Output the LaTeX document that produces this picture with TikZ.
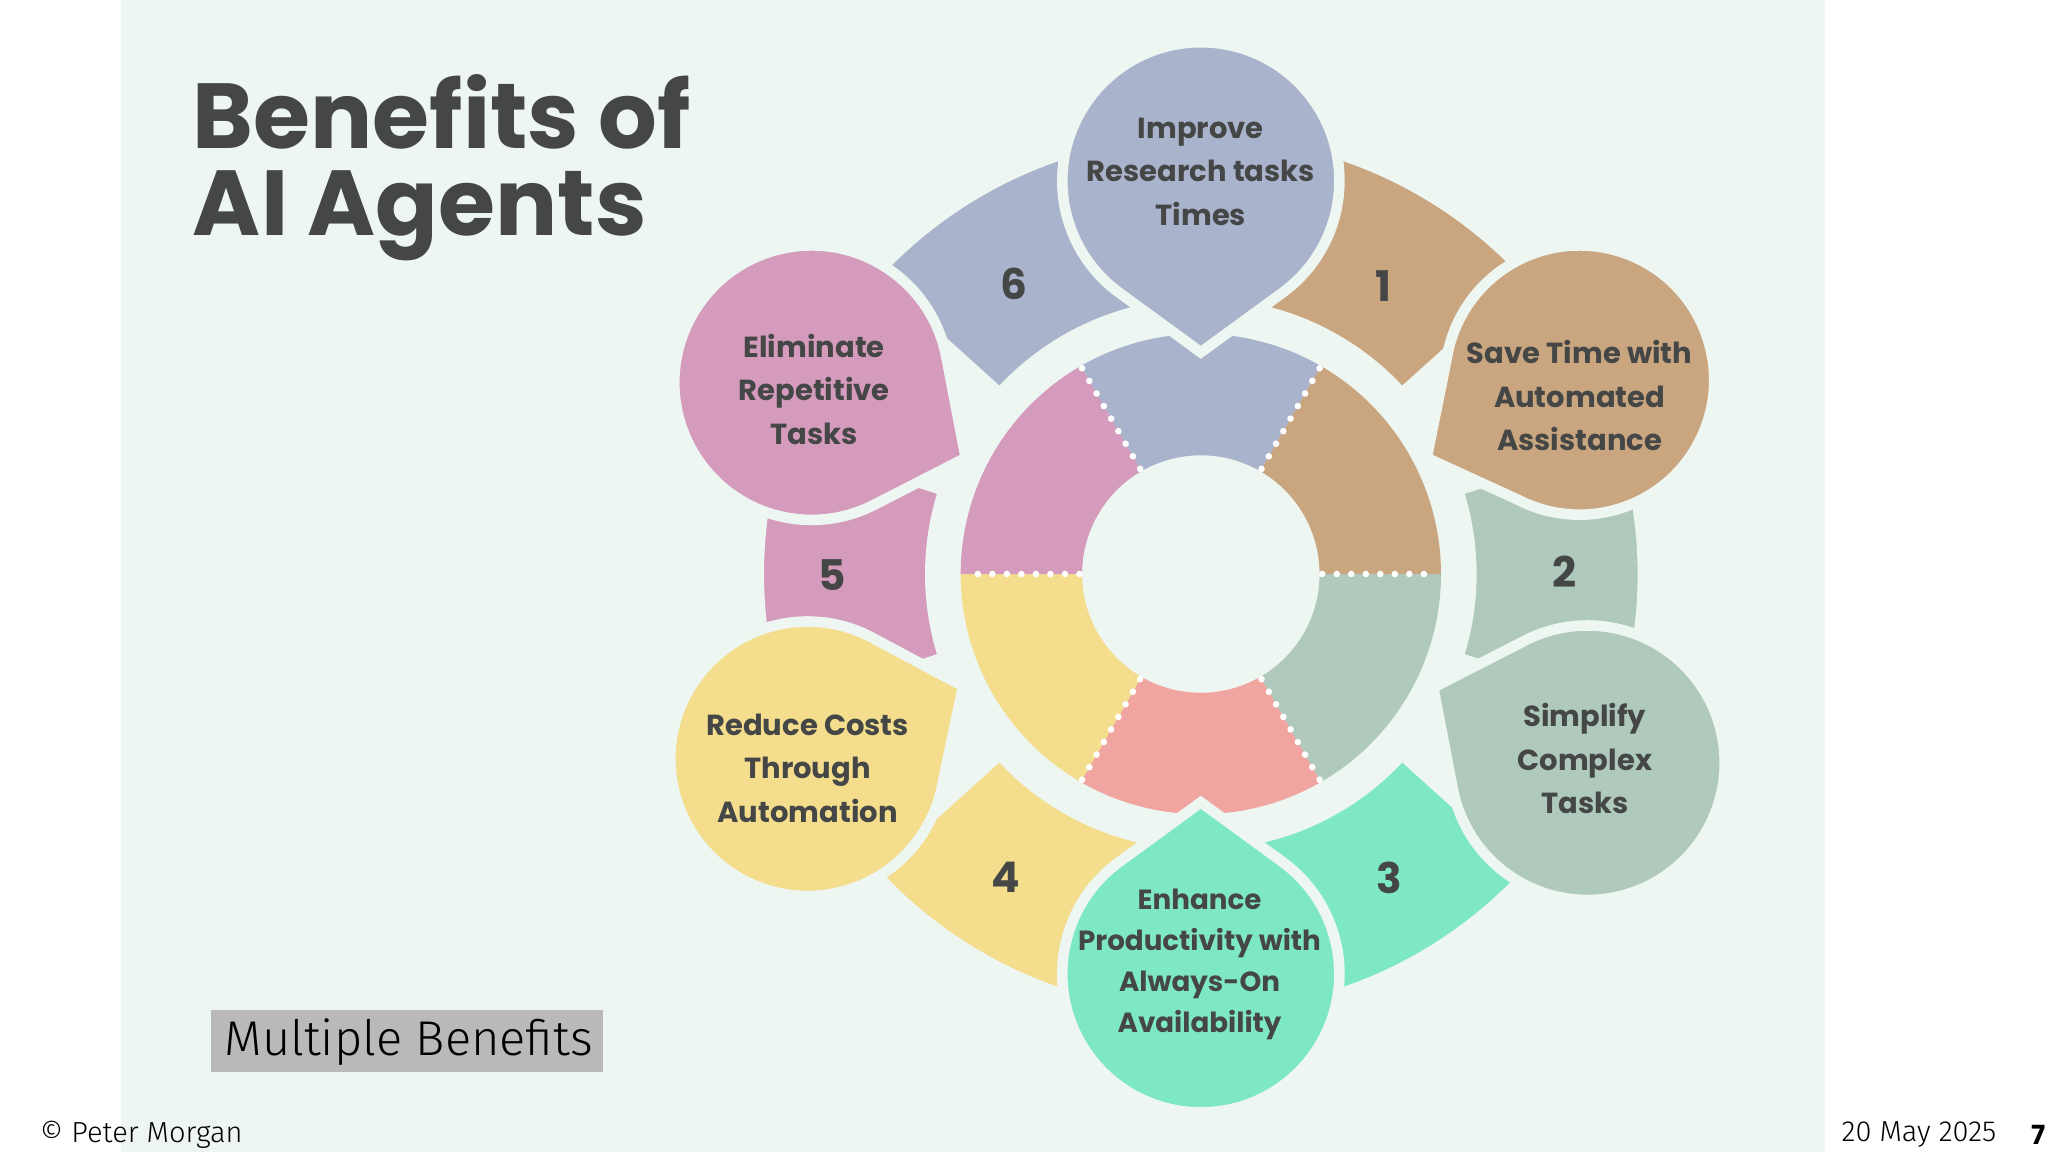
\documentclass[tikz,border=0pt]{standalone}
\usepackage{fontspec}
\setmainfont{Poppins}
\newfontfamily\footfont{Fira Sans Light}
\definecolor{bgc}{HTML}{EEF6F2}
\definecolor{cblue}{HTML}{A9B3CB}
\definecolor{ctan}{HTML}{C9A680}
\definecolor{csage}{HTML}{AFC9BC}
\definecolor{cmint}{HTML}{7EE8C4}
\definecolor{cyel}{HTML}{F4DE8E}
\definecolor{cpink}{HTML}{D59BBD}
\definecolor{csal}{HTML}{F0A5A0}
\definecolor{ctxt}{HTML}{454746}
\tikzset{x=1pt,y=1pt,
 ptext/.style={font=\fontsize{22}{33}\selectfont\bfseries,text=ctxt,align=center},
 numtxt/.style={font=\fontsize{32}{32}\selectfont\bfseries,text=ctxt},
 gap/.style={draw=bgc,line width=8pt}}
\newcommand{\petal}[4]{% center, direction, radius, color
 \begin{scope}[shift={#1},rotate=#2]
 \fill[#4,gap] (130,0) -- (36:#3) arc[start angle=36,end angle=324,radius=#3] -- cycle;
 \end{scope}}
\newcommand{\tab}[2]{% angle, color
 \fill[#2,gap] (#1-18:205) arc[start angle=#1-18,end angle=#1+18,radius=205] -- (#1+18:335) arc[start angle=#1+18,end angle=#1-18,radius=335] -- cycle;}
\begin{document}
\begin{tikzpicture}
\useasboundingbox (0,0) rectangle (1552,-873);
\fill[white] (0,0) rectangle (1552,-873);
\fill[bgc] (92,0) rectangle (1383,-873);
\coordinate (O) at (910,-435);
\begin{scope}[shift={(O)}]
 \tab{60}{ctan} \tab{0}{csage} \tab{-60}{cmint} \tab{-120}{cyel} \tab{180}{cpink} \tab{120}{cblue}
 \foreach \a/\c in {60/cblue,0/ctan,-60/csage,-120/csal,-180/cyel,120/cpink}{
  \fill[\c] (\a:90) arc[start angle=\a,end angle=\a+60,radius=90] -- (\a+60:182) arc[start angle=\a+60,end angle=\a,radius=182] -- cycle;}
 \fill[bgc] (0,0) circle (88);
 \foreach \a in {0,60,...,300}
  \draw[white,line width=5pt,line cap=round,dash pattern=on 0pt off 11pt] (\a:92) -- (\a:180);
\end{scope}
\petal{(910,-137)}{-90}{105}{cblue}
\petal{(1197,-288)}{207}{102}{ctan}
\petal{(1203,-578)}{154}{104}{csage}
\petal{(910,-738)}{90}{105}{cmint}
\petal{(612,-575)}{25}{104}{cyel}
\petal{(615,-290)}{-26}{104}{cpink}
\node[ptext] (p1) at (910,-130) {Improve\\Research tasks\\Times};
\node[ptext] (p2) at (1197,-300) {Save Time with\\Automated\\Assistance};
\node[ptext] (p3) at (1201,-575) {Simplify\\Complex\\Tasks};
\node[ptext,font=\fontsize{21}{31}\selectfont\bfseries] (p4) at (909,-731) {Enhance\\Productivity with\\Always-On\\Availability};
\node[ptext] (p5) at (612,-582) {Reduce Costs\\Through\\Automation};
\node[ptext] (p6) at (617,-295) {Eliminate\\Repetitive\\Tasks};
\node[numtxt] (n1) at (1048,-217) {1};
\node[numtxt] (n2) at (1186,-433) {2};
\node[numtxt] (n3) at (1053,-665) {3};
\node[numtxt] (n4) at (762,-665) {4};
\node[numtxt] (n5) at (631,-436) {5};
\node[numtxt] (n6) at (768,-215) {6};
\node[anchor=north west,align=left,text=ctxt,inner sep=0pt,font=\fontsize{70}{66}\selectfont\bfseries] (title) at (146,-56) {Benefits of\\AI Agents};
\fill[gray!55] (160,-765) rectangle (457,-812);
\node[anchor=west,font=\footfont\fontsize{37}{37}\selectfont,inner sep=0pt] (mb) at (170,-790) {Multiple Benefits};
\node[anchor=west,font=\footfont\fontsize{22}{22}\selectfont,inner sep=0pt] (pm) at (30,-860) {© Peter Morgan};
\node[anchor=east,font=\footfont\fontsize{22}{22}\selectfont,inner sep=0pt] (dt) at (1513,-860) {20 May 2025};
\node[anchor=east,font=\fontsize{20}{20}\selectfont\bfseries,inner sep=0pt] (pg) at (1550,-860) {7};
\end{tikzpicture}
\end{document}
